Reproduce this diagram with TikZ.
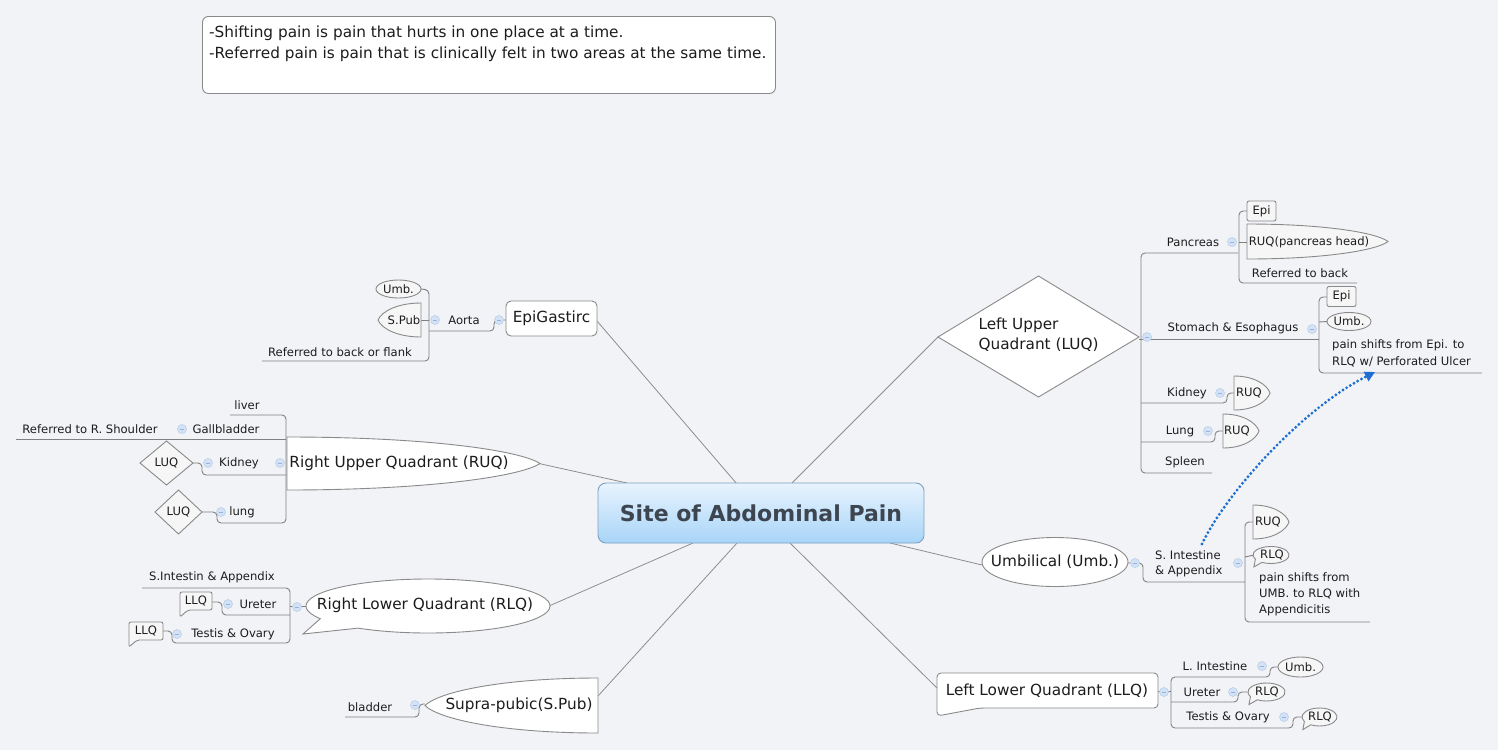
\documentclass[tikz,border=0pt]{standalone}
\usepackage{fontspec}
\setmainfont{DejaVu Sans}
\usetikzlibrary{calc,arrows.meta}
\definecolor{bg}{HTML}{F1F3F7}
\definecolor{ln}{HTML}{808080}
\definecolor{bd}{HTML}{8A8A8A}
\definecolor{txt}{HTML}{1C1C1C}
\definecolor{cfill}{HTML}{D3E2F5}
\definecolor{cdraw}{HTML}{B3CBE8}
\definecolor{cminus}{HTML}{94B4DE}
\definecolor{ctop}{HTML}{E8F4FE}
\definecolor{cbot}{HTML}{A8D4F8}
\definecolor{cbord}{HTML}{7D9FBF}
\definecolor{ctext}{HTML}{3C4550}
\definecolor{arrowblue}{HTML}{1F6FD2}
\definecolor{leaf}{HTML}{F6F6F6}
\tikzset{
 conn/.style={draw=ln, line width=0.9pt, rounded corners=4pt},
 mainconn/.style={draw=ln!90, line width=0.8pt},
 shp/.style={draw=bd, line width=0.9pt},
 sm/.style={font=\fontsize{11.6}{15}\selectfont, text=txt, inner sep=0pt},
 md/.style={font=\fontsize{15.3}{19}\selectfont, text=txt, inner sep=0pt},
 col/.style={circle, minimum size=9pt, inner sep=0pt, fill=cfill, draw=cdraw, line width=0.5pt,
   path picture={\draw[cminus, line width=0.9pt] ([xshift=-2.3pt]path picture bounding box.center) -- ([xshift=2.3pt]path picture bounding box.center);}},
}
% [fill]{flat x}{top}{bottom}{point x}
\newcommand{\leafshape}[5][white]{%
 \pgfmathsetmacro{\lfc}{(#3+#4)/2}%
 \pgfmathsetmacro{\lfh}{#4-#3}%
 \pgfmathsetmacro{\lfk}{#2+0.55*(#5-#2)}%
 \pgfmathsetmacro{\lfp}{#5-0.08*(#5-#2)}%
 \filldraw[shp, fill=#1] (#2,#3) .. controls (\lfk,#3) and (\lfp,\lfc-0.25*\lfh) .. (#5,\lfc) .. controls (\lfp,\lfc+0.25*\lfh) and (\lfk,#4) .. (#2,#4) -- cycle;}
% [fill]{cx}{cy}{rx}{ry}  ellipse callout, tail bottom-left
\newcommand{\ecallout}[5][white]{%
 \filldraw[shp, fill=#1] ($(#2,#3)+(150:#4pt and -#5pt)$) arc[start angle=150, end angle=480, x radius=#4pt, y radius=-#5pt] -- ($(#2,#3)+(-0.95*#4,1.4*#5)$) -- cycle;}
% {L}{T}{R}{B} rectangle callout, tail bottom-left
\newcommand{\rcallout}[4]{%
 \filldraw[shp, fill=leaf, rounded corners=2pt] (#1,#2) -- (#3,#2) -- (#3,#4) -- (#1+8,#4) -- (#1,#4+7) -- cycle;}
\begin{document}
\begin{tikzpicture}[x=1pt,y=-1pt]
\fill[bg] (0,0) rectangle (1498,750);
\useasboundingbox (0,0) rectangle (1498,750);

% note
\node[draw=bd, fill=white, rounded corners=6pt, line width=0.9pt, minimum width=573, minimum height=77, anchor=north west, inner sep=0pt] (note) at (202,16) {};
\node[md, anchor=west] (note1) at (209,33) {-Shifting pain is pain that hurts in one place at a time.};
\node[md, anchor=west] (note2) at (209,54) {-Referred pain is pain that is clinically felt in two areas at the same time.};

% main connectors
\draw[mainconn] (737,484) -- (597,321);
\draw[mainconn] (627,483) -- (539,463.5);
\draw[mainconn] (693,543) -- (549,606);
\draw[mainconn] (737,543) -- (598,696);
\draw[mainconn] (792,483) -- (938,337);
\draw[mainconn] (890,543) -- (982,565);
\draw[mainconn] (790,543) -- (937,688);

% center
\node[draw=cbord, line width=0.9pt, rounded corners=8pt, top color=ctop, bottom color=cbot, minimum width=326, minimum height=60, inner sep=0pt, font=\bfseries\fontsize{22}{26}\selectfont, text=ctext] (center) at (761,513) {Site of Abdominal Pain};

% ---------- EpiGastirc
\draw[conn] (506,320) -- (494,320) -- (494,331) -- (429,331);
\draw[conn] (421,289) -- (429,290) -- (429,361) -- (262,361);
\draw[conn] (421,320) -- (429,320);
\node[draw=bd, fill=white, rounded corners=5pt, line width=0.9pt, minimum width=91, minimum height=35, md] (epi) at (551.5,318.5) {EpiGastirc};
\node[sm] (aorta) at (464,320) {Aorta};
\draw[shp, fill=leaf] (398.5,289) ellipse [x radius=22.5pt, y radius=9pt];
\node[sm] (aumb) at (398.5,289) {Umb.};
\leafshape[leaf]{421}{303}{337}{378}
\node[sm] (aspub) at (404,320) {S.Pub};
\node[sm] (aref) at (340,352) {Referred to back or flank};

% ---------- RUQ
\draw[conn] (230,415) -- (286,415) -- (286,523) -- (217,523) -- (217,512) -- (202,512);
\draw[conn] (16,439) -- (286,439);
\draw[conn] (193,463) -- (202,463) -- (202,475) -- (286,475);
\leafshape{287}{437}{490}{540}
\node[md] (ruq) at (399,463.5) {Right Upper Quadrant (RUQ)};
\node[sm] (liver) at (247,405) {liver};
\node[sm] (gall) at (226,429) {Gallbladder};
\node[sm] (gallref) at (90,429) {Referred to R. Shoulder};
\node[sm] (rkid) at (239,463) {Kidney};
\node[sm] (rlung) at (242,512) {lung};
\draw[shp, fill=leaf] (140,463) -- (166.5,441) -- (193,463) -- (166.5,485) -- cycle;
\node[sm] (rkidluq) at (166.5,463) {LUQ};
\draw[shp, fill=leaf] (155,512) -- (178.5,490) -- (202,512) -- (178.5,534) -- cycle;
\node[sm] (rlungluq) at (178.5,512) {LUQ};

% ---------- RLQ
\draw[conn] (306,606) -- (290,606);
\draw[conn] (142,588) -- (290,588) -- (290,643) -- (172,643) -- (172,631) -- (163,631);
\draw[conn] (212,602) -- (222,602) -- (222,615) -- (290,615);
\filldraw[shp, fill=white] ($(428,606)+(152:122pt and -27pt)$) arc[start angle=152, end angle=485, x radius=122pt, y radius=-27pt] -- (303,634) -- cycle;
\node[md] (rlq) at (425,605) {Right Lower Quadrant (RLQ)};
\node[sm] (rsint) at (212,577) {S.Intestin \& Appendix};
\node[sm] (rureter) at (258,604) {Ureter};
\node[sm] (rtestis) at (233,634) {Testis \& Ovary};
\rcallout{180}{592}{212}{610}
\node[sm] (rureterllq) at (196,601) {LLQ};
\rcallout{129}{622}{163}{640}
\node[sm] (rtestisllq) at (146,631) {LLQ};

% ---------- Supra-pubic
\draw[conn] (425,704) -- (419,704) -- (419,717) -- (345,717);
\leafshape{598}{678}{733}{425}
\node[md] (spub) at (519,705) {Supra-pubic(S.Pub)};
\node[sm] (bladder) at (370,707) {bladder};

% ---------- LUQ
\draw[conn] (1238,253) -- (1141,253) -- (1141,473) -- (1212,473);
\draw[conn] (1139,339) -- (1319,339);
\draw[conn] (1141,403) -- (1227,403) -- (1227,393) -- (1234,393);
\draw[conn] (1141,442) -- (1215,442) -- (1215,431) -- (1223,431);
\draw[conn] (1247,211) -- (1239,211) -- (1239,283) -- (1357,283);
\draw[conn] (1239,242) -- (1247,242);
\draw[conn] (1327,297) -- (1319,297) -- (1319,373) -- (1482,373);
\draw[conn] (1319,322) -- (1327,321.5);
\filldraw[shp, fill=white] (938,337) -- (1038.5,276) -- (1139,337) -- (1038.5,397) -- cycle;
\node[md, align=left, font=\fontsize{15.3}{20}\selectfont] (luq) at (1038.5,335) {Left Upper\\Quadrant (LUQ)};
\node[sm] (panc) at (1193,242) {Pancreas};
\node[draw=bd, fill=leaf, rounded corners=2pt, line width=0.9pt, minimum width=29, minimum height=20, sm] (pepi) at (1261.5,211) {Epi};
\leafshape[leaf]{1247}{224}{259}{1388}
\node[sm] (pruq) at (1309,242) {RUQ(pancreas head)};
\node[sm] (pback) at (1300,273) {Referred to back};
\node[sm] (stom) at (1233,328) {Stomach \& Esophagus};
\node[draw=bd, fill=leaf, rounded corners=2pt, line width=0.9pt, minimum width=29, minimum height=20, sm] (sepi) at (1341.5,296.5) {Epi};
\draw[shp, fill=leaf] (1349,321.5) ellipse [x radius=22pt, y radius=9pt];
\node[sm] (sumb) at (1349,321.5) {Umb.};
\node[sm, align=left, anchor=west, font=\fontsize{11.6}{17}\selectfont] (sshift) at (1332,353.5) {pain shifts from Epi. to\\RLQ w/ Perforated Ulcer};
\node[sm] (lkid) at (1187,393) {Kidney};
\leafshape[leaf]{1234}{376}{410}{1270}
\node[sm] (lkidruq) at (1249,393) {RUQ};
\node[sm] (llung) at (1180,431) {Lung};
\leafshape[leaf]{1223}{414}{448}{1259}
\node[sm] (llungruq) at (1237,431) {RUQ};
\node[sm] (spleen) at (1185,462) {Spleen};

% ---------- Umbilical
\draw[conn] (1128,563) -- (1143,563) -- (1143,582) -- (1245,582);
\draw[conn] (1253,522) -- (1245,522) -- (1245,622) -- (1370,622);
\draw[conn] (1245,557) -- (1254,555);
\draw[shp, fill=white] (1055,562) ellipse [x radius=73pt, y radius=24.5pt];
\node[md] (umb) at (1055,562) {Umbilical (Umb.)};
\node[sm, align=left, anchor=west] (usint) at (1155,563.5) {S. Intestine\\\& Appendix};
\leafshape[leaf]{1253}{505}{539}{1289}
\node[sm] (usintruq) at (1268,522) {RUQ};
\ecallout[leaf]{1271}{555}{18}{8.5}
\node[sm] (usintrlq) at (1272,555) {RLQ};
\node[sm, align=left, anchor=west, font=\fontsize{11.6}{16}\selectfont] (ushift) at (1259,594) {pain shifts from\\UMB. to RLQ with\\Appendicitis};

% ---------- LLQ
\draw[conn] (1158,691) -- (1171,691);
\draw[conn] (1278,667) -- (1270,667) -- (1270,677) -- (1171,677) -- (1171,728) -- (1293,728) -- (1293,717) -- (1302,717);
\draw[conn] (1171,702) -- (1238,702) -- (1238,692) -- (1248,692);
\filldraw[shp, fill=white, rounded corners=4pt] (937,673) -- (1158,673) -- (1158,708) -- (980,708) -- (937,716) -- cycle;
\node[md] (llq) at (1047,691) {Left Lower Quadrant (LLQ)};
\node[sm] (lint) at (1215,666) {L. Intestine};
\draw[shp, fill=leaf] (1300.5,667) ellipse [x radius=22.5pt, y radius=10pt];
\node[sm] (lintumb) at (1300.5,667) {Umb.};
\node[sm] (lureter) at (1202,692) {Ureter};
\ecallout[leaf]{1266.5}{692}{18.5}{9}
\node[sm] (lureterrlq) at (1267,692) {RLQ};
\node[sm] (ltestis) at (1228,717) {Testis \& Ovary};
\ecallout[leaf]{1319.5}{717}{17.5}{9}
\node[sm] (ltestisrlq) at (1320,717) {RLQ};

% collapse buttons
\node[col] (b1) at (499,320) {};
\node[col] (b2) at (435,320) {};
\node[col] (b3) at (280,463) {};
\node[col] (b4) at (182,429) {};
\node[col] (b5) at (208,463) {};
\node[col] (b6) at (221,512) {};
\node[col] (b7) at (297,607) {};
\node[col] (b8) at (228,604) {};
\node[col] (b9) at (177,634) {};
\node[col] (b10) at (415,705) {};
\node[col] (b11) at (1147,337) {};
\node[col] (b12) at (1232,242) {};
\node[col] (b13) at (1312,329) {};
\node[col] (b14) at (1220,393) {};
\node[col] (b15) at (1208,431) {};
\node[col] (b16) at (1135,563) {};
\node[col] (b17) at (1238,563) {};
\node[col] (b18) at (1164,692) {};
\node[col] (b19) at (1262,666) {};
\node[col] (b20) at (1233,692) {};
\node[col] (b21) at (1284,717) {};

% dotted relationship arrow
\coordinate (relS) at (1202,544);
\coordinate (relE) at (1375,372);
\draw[arrowblue, line width=3.2pt, line cap=round, dash pattern=on 0pt off 4.3pt, -{Triangle[length=10pt,width=10pt]}] (relS) .. controls (1225,495) and (1300,410) .. (relE);
\end{tikzpicture}
\end{document}
